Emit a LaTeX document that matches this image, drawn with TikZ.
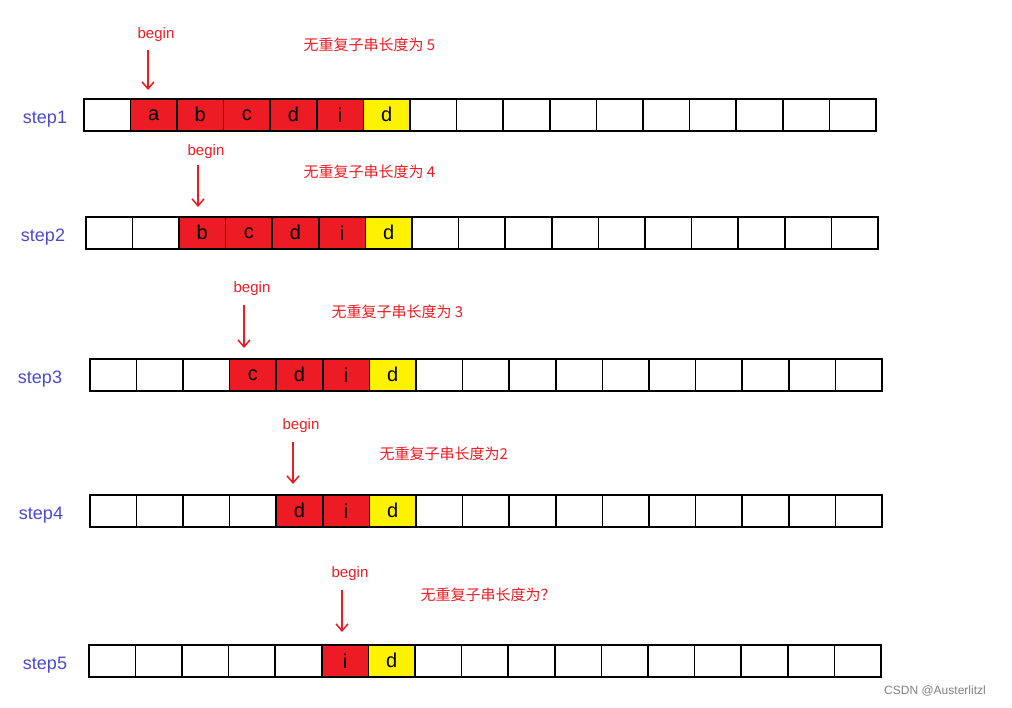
\documentclass[tikz,border=0pt]{standalone}
\usepackage{fontspec}
\setmainfont{Liberation Sans}
\newfontfamily\cjk{Noto Sans CJK SC}
\usetikzlibrary{arrows.meta}
\definecolor{cred}{HTML}{ED1C24}
\definecolor{cyel}{HTML}{FFF200}
\definecolor{cblue}{HTML}{4A4ACF}
\tikzset{
 cellbox/.style={draw=black,line width=1.6pt,minimum width=46.6pt,minimum height=32pt,inner sep=0pt,anchor=north west,font=\fontsize{20}{20}\selectfont},
 steplab/.style={text=cblue,font=\fontsize{18}{18}\selectfont},
 beginlab/.style={text=cred,font=\fontsize{15}{15}\selectfont},
 cnlab/.style={text=cred,font=\cjk\fontsize{15}{15}\selectfont,anchor=west},
 beginarrow/.style={draw=cred,line width=1.5pt,-{Straight Barb[length=7pt,width=12pt]}}
}
\begin{document}
\begin{tikzpicture}[x=1pt,y=-1pt]
\useasboundingbox (0,0) rectangle (1012,707);
% rows: x0, y0, first red index, label x, begin x, begin label y, arrow top, arrow bottom, text x, text y, text
\foreach \r/\xo/\yo/\fr/\lx/\bx/\by/\at/\ab/\tx/\ty/\txt in {
 1/83/98/1/45/148/35/50/90/300/45/{无重复子串长度为 5},
 2/85/216/2/43/198/152/165/207/300/172/{无重复子串长度为 4},
 3/89/358/3/40/244/289/305/348/328/312/{无重复子串长度为 3},
 4/89/494/4/41/293/426/442/484/376/454/{无重复子串长度为2},
 5/88/644/5/45/342/574/590/632/417/595/{无重复子串长度为？}}{
  \node[steplab] (s\r) at (\lx,\yo+21) {step\r};
  \foreach \i in {0,...,16}{
    \pgfmathsetmacro\cx{\xo+\i*46.6}
    \ifnum\i<\fr
      \node[cellbox] (c\r-\i) at (\cx,\yo) {};
    \else\ifnum\i<6
      \node[cellbox,fill=cred] (c\r-\i) at (\cx,\yo) {};
    \else\ifnum\i=6
      \node[cellbox,fill=cyel] (c\r-\i) at (\cx,\yo) {d};
    \else
      \node[cellbox] (c\r-\i) at (\cx,\yo) {};
    \fi\fi\fi
  }
  \node[beginlab] (b\r) at (\bx+8,\by) {begin};
  \coordinate (at\r) at (\bx,\at);
  \coordinate (ab\r) at (\bx,\ab);
  \draw[beginarrow] (at\r) -- (ab\r);
  \node[cnlab] (t\r) at (\tx,\ty) {\txt};
}
\foreach \r/\lst in {1/{1/a,2/b,3/c,4/d,5/i},2/{2/b,3/c,4/d,5/i},3/{3/c,4/d,5/i},4/{4/d,5/i},5/{5/i}}{
  \foreach \i/\ch in \lst { \node[font=\fontsize{20}{20}\selectfont] at (c\r-\i.center) {\ch}; }
}
\node[text=gray,font=\fontsize{12}{12}\selectfont] (wm) at (935,691) {CSDN @Austerlitzl};
\end{tikzpicture}
\end{document}
